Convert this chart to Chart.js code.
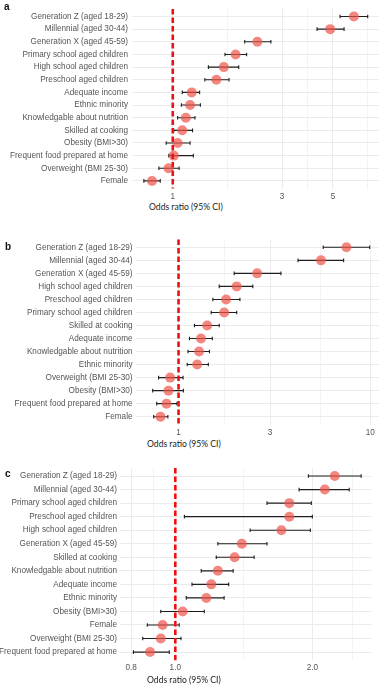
<!DOCTYPE html>
<html>
<head>
<meta charset="utf-8">
<script src="https://cdn.jsdelivr.net/npm/chart.js@4"></script>
<style>
  html, body { margin:0; padding:0; background:#fff; }
  body { width:384px; height:685px; position:relative; overflow:hidden; }
  canvas { position:absolute; left:0; }
  .ttl { position:absolute; font-family: Lato, "Open Sans", sans-serif; font-size:8.6px; color:#1a1a1a; white-space:nowrap; line-height:10px; }
  .pl { position:absolute; font-family:"Liberation Sans", Arial, sans-serif; font-weight:bold; font-size:10px; color:#111; line-height:10px; }
</style>
</head>
<body>
<canvas id="ca" width="384" height="200" style="top:0px"></canvas>
<canvas id="cb" width="384" height="206" style="top:230px"></canvas>
<canvas id="cc" width="384" height="222" style="top:460px"></canvas>
<div class="pl" style="left:4px;top:2px">a</div>
<div class="pl" style="left:5px;top:242px">b</div>
<div class="pl" style="left:5px;top:469px">c</div>
<div class="ttl" style="left:149px;top:202px">Odds ratio (95% CI)</div>
<div class="ttl" style="left:147px;top:439px">Odds ratio (95% CI)</div>
<div class="ttl" style="left:147px;top:675px">Odds ratio (95% CI)</div>
<script>
// ---------- Panel a ----------
const labelsA = ['Generation Z (aged 18-29)','Millennial (aged 30-44)','Generation X (aged 45-59)','Primary school aged children','High school aged children','Preschool aged children','Adequate income','Ethnic minority','Knowledgable about nutrition','Skilled at cooking','Obesity (BMI>30)','Frequent food prepared at home','Overweight (BMI 25-30)','Female'];
const orA = [6.17,4.86,2.34,1.88,1.67,1.55,1.21,1.19,1.14,1.10,1.05,1.01,0.958,0.812];
const lowA = [5.37,4.26,2.06,1.69,1.43,1.38,1.10,1.09,1.05,1.01,0.936,0.961,0.870,0.748];
const highA = [7.09,5.59,2.68,2.10,1.94,1.76,1.31,1.32,1.25,1.22,1.19,1.23,1.066,0.882];
const majorTicksA = [1,3,5];
const tickLabelsA = ['1','3','5'];
const minorTicksA = [1.73,3.87,7.07];

// ---------- Panel b ----------
const labelsB = ['Generation Z (aged 18-29)','Millennial (aged 30-44)','Generation X (aged 45-59)','High school aged children','Preschool aged children','Primary school aged children','Skilled at cooking','Adequate income','Knowledgable about nutrition','Ethnic minority','Overweight (BMI 25-30)','Obesity (BMI>30)','Frequent food prepared at home','Female'];
const orB = [7.51,5.53,2.57,2.01,1.77,1.73,1.41,1.31,1.28,1.25,0.904,0.886,0.866,0.805];
const lowB = [5.68,4.20,1.95,1.63,1.51,1.48,1.21,1.14,1.12,1.11,0.787,0.733,0.769,0.742];
const highB = [9.93,7.26,3.42,2.44,2.09,2.01,1.63,1.50,1.45,1.43,1.056,1.06,0.981,0.880];
const majorTicksB = [1,3,10];
const tickLabelsB = ['1','3','10'];
const minorTicksB = [1.73,5.48];

// ---------- Panel c ----------
const labelsC = ['Generation Z (aged 18-29)','Millennial (aged 30-44)','Primary school aged children','Preschool aged children','High school aged children','Generation X (aged 45-59)','Skilled at cooking','Knowledgable about nutrition','Adequate income','Ethnic minority','Obesity (BMI>30)','Female','Overweight (BMI 25-30)','Frequent food prepared at home'];
const orC = [2.24,2.13,1.78,1.78,1.71,1.40,1.35,1.24,1.20,1.17,1.038,0.938,0.929,0.880];
const lowC = [1.96,1.87,1.59,1.047,1.46,1.24,1.23,1.14,1.088,1.057,0.929,0.868,0.848,0.809];
const highC = [2.56,2.41,1.99,2.00,1.98,1.59,1.49,1.34,1.31,1.28,1.158,1.02,1.029,0.970];
const majorTicksC = [0.8,1.0,2.0];
const tickLabelsC = ['0.8','1.0','2.0'];
const minorTicksC = [0.894,1.414,2.449];

const refValue = 1;

function makePanel(id, labels, ors, lows, highs, majors, tickLabels, minors, lay) {
  const canvas = document.getElementById(id);
  const W = canvas.width, H = canvas.height;
  const errorBars = {
    id: 'errorBars',
    beforeDatasetsDraw(chart) {
      const ctx = chart.ctx, xs = chart.scales.x, ys = chart.scales.y;
      ctx.save();
      ctx.strokeStyle = '#1e1e1e';
      ctx.lineWidth = 1.1;
      for (let i = 0; i < labels.length; i++) {
        const x1 = xs.getPixelForValue(lows[i]);
        const x2 = xs.getPixelForValue(highs[i]);
        const y = ys.getPixelForValue(i);
        ctx.beginPath();
        ctx.moveTo(x1, y); ctx.lineTo(x2, y);
        ctx.moveTo(x1, y - 1.8); ctx.lineTo(x1, y + 1.8);
        ctx.moveTo(x2, y - 1.8); ctx.lineTo(x2, y + 1.8);
        ctx.stroke();
      }
      ctx.restore();
    }
  };
  const refLine = {
    id: 'refLine',
    afterDatasetsDraw(chart) {
      const ctx = chart.ctx, xs = chart.scales.x, a = chart.chartArea;
      const x = xs.getPixelForValue(refValue);
      ctx.save();
      ctx.strokeStyle = '#ee1111';
      ctx.lineWidth = 2.6;
      ctx.setLineDash([5.5, 3]);
      ctx.beginPath();
      ctx.moveTo(x, a.top); ctx.lineTo(x, a.bottom);
      ctx.stroke();
      ctx.restore();
    }
  };
  return new Chart(canvas, {
    type: 'scatter',
    data: {
      datasets: [{
        data: ors.map((v, i) => ({ x: v, y: i })),
        backgroundColor: 'rgba(238,84,74,0.7)',
        borderWidth: 0,
        pointRadius: 5,
        pointHoverRadius: 5
      }]
    },
    options: {
      responsive: false,
      animation: false,
      devicePixelRatio: 1,
      layout: { padding: { left: 0, right: W - lay.right, top: lay.top, bottom: 0 } },
      plugins: { legend: { display: false }, tooltip: { enabled: false } },
      scales: {
        x: {
          type: 'logarithmic',
          min: lay.xmin, max: lay.xmax,
          afterBuildTicks: (s) => { s.ticks = majors.concat(minors).map(v => ({ value: v })); },
          afterFit: (s) => { s.height = H - lay.bottom; },
          ticks: {
            autoSkip: false, maxRotation: 0, padding: 3,
            font: { family: '"Liberation Sans", Arial, sans-serif', size: 8.2 },
            color: '#555',
            callback: (v) => { const k = majors.indexOf(v); return k >= 0 ? tickLabels[k] : ''; }
          },
          grid: {
            color: '#ebebeb', drawTicks: false,
            lineWidth: (c) => (c.tick && majors.indexOf(c.tick.value) >= 0) ? 1 : 0.6
          },
          border: { display: false }
        },
        y: {
          type: 'linear', reverse: true,
          min: -0.6, max: labels.length - 0.4,
          afterBuildTicks: (s) => { s.ticks = labels.map((l, i) => ({ value: i })); },
          afterFit: (s) => { s.width = lay.left; },
          ticks: {
            autoSkip: false, padding: lay.lpad,
            font: { family: '"Liberation Sans", Arial, sans-serif', size: 8.2 },
            color: '#555',
            callback: (v) => labels[v]
          },
          grid: { color: '#ebebeb', lineWidth: 1, drawTicks: false },
          border: { display: false }
        }
      }
    },
    plugins: [errorBars, refLine]
  });
}

makePanel('ca', labelsA, orA, lowA, highA, majorTicksA, tickLabelsA, minorTicksA,
  { left: 132, right: 382, top: 0, bottom: 188.5, xmin: 0.664, xmax: 7.94, lpad: 4 });
makePanel('cb', labelsB, orB, lowB, highB, majorTicksB, tickLabelsB, minorTicksB,
  { left: 136, right: 382, top: 9.5, bottom: 194.5, xmin: 0.638, xmax: 11.1, lpad: 3.5 });
makePanel('cc', labelsC, orC, lowC, highC, majorTicksC, tickLabelsC, minorTicksC,
  { left: 120, right: 371.7, top: 6.1, bottom: 200.2, xmin: 0.756, xmax: 2.70, lpad: 3 });
</script>
</body>
</html>
